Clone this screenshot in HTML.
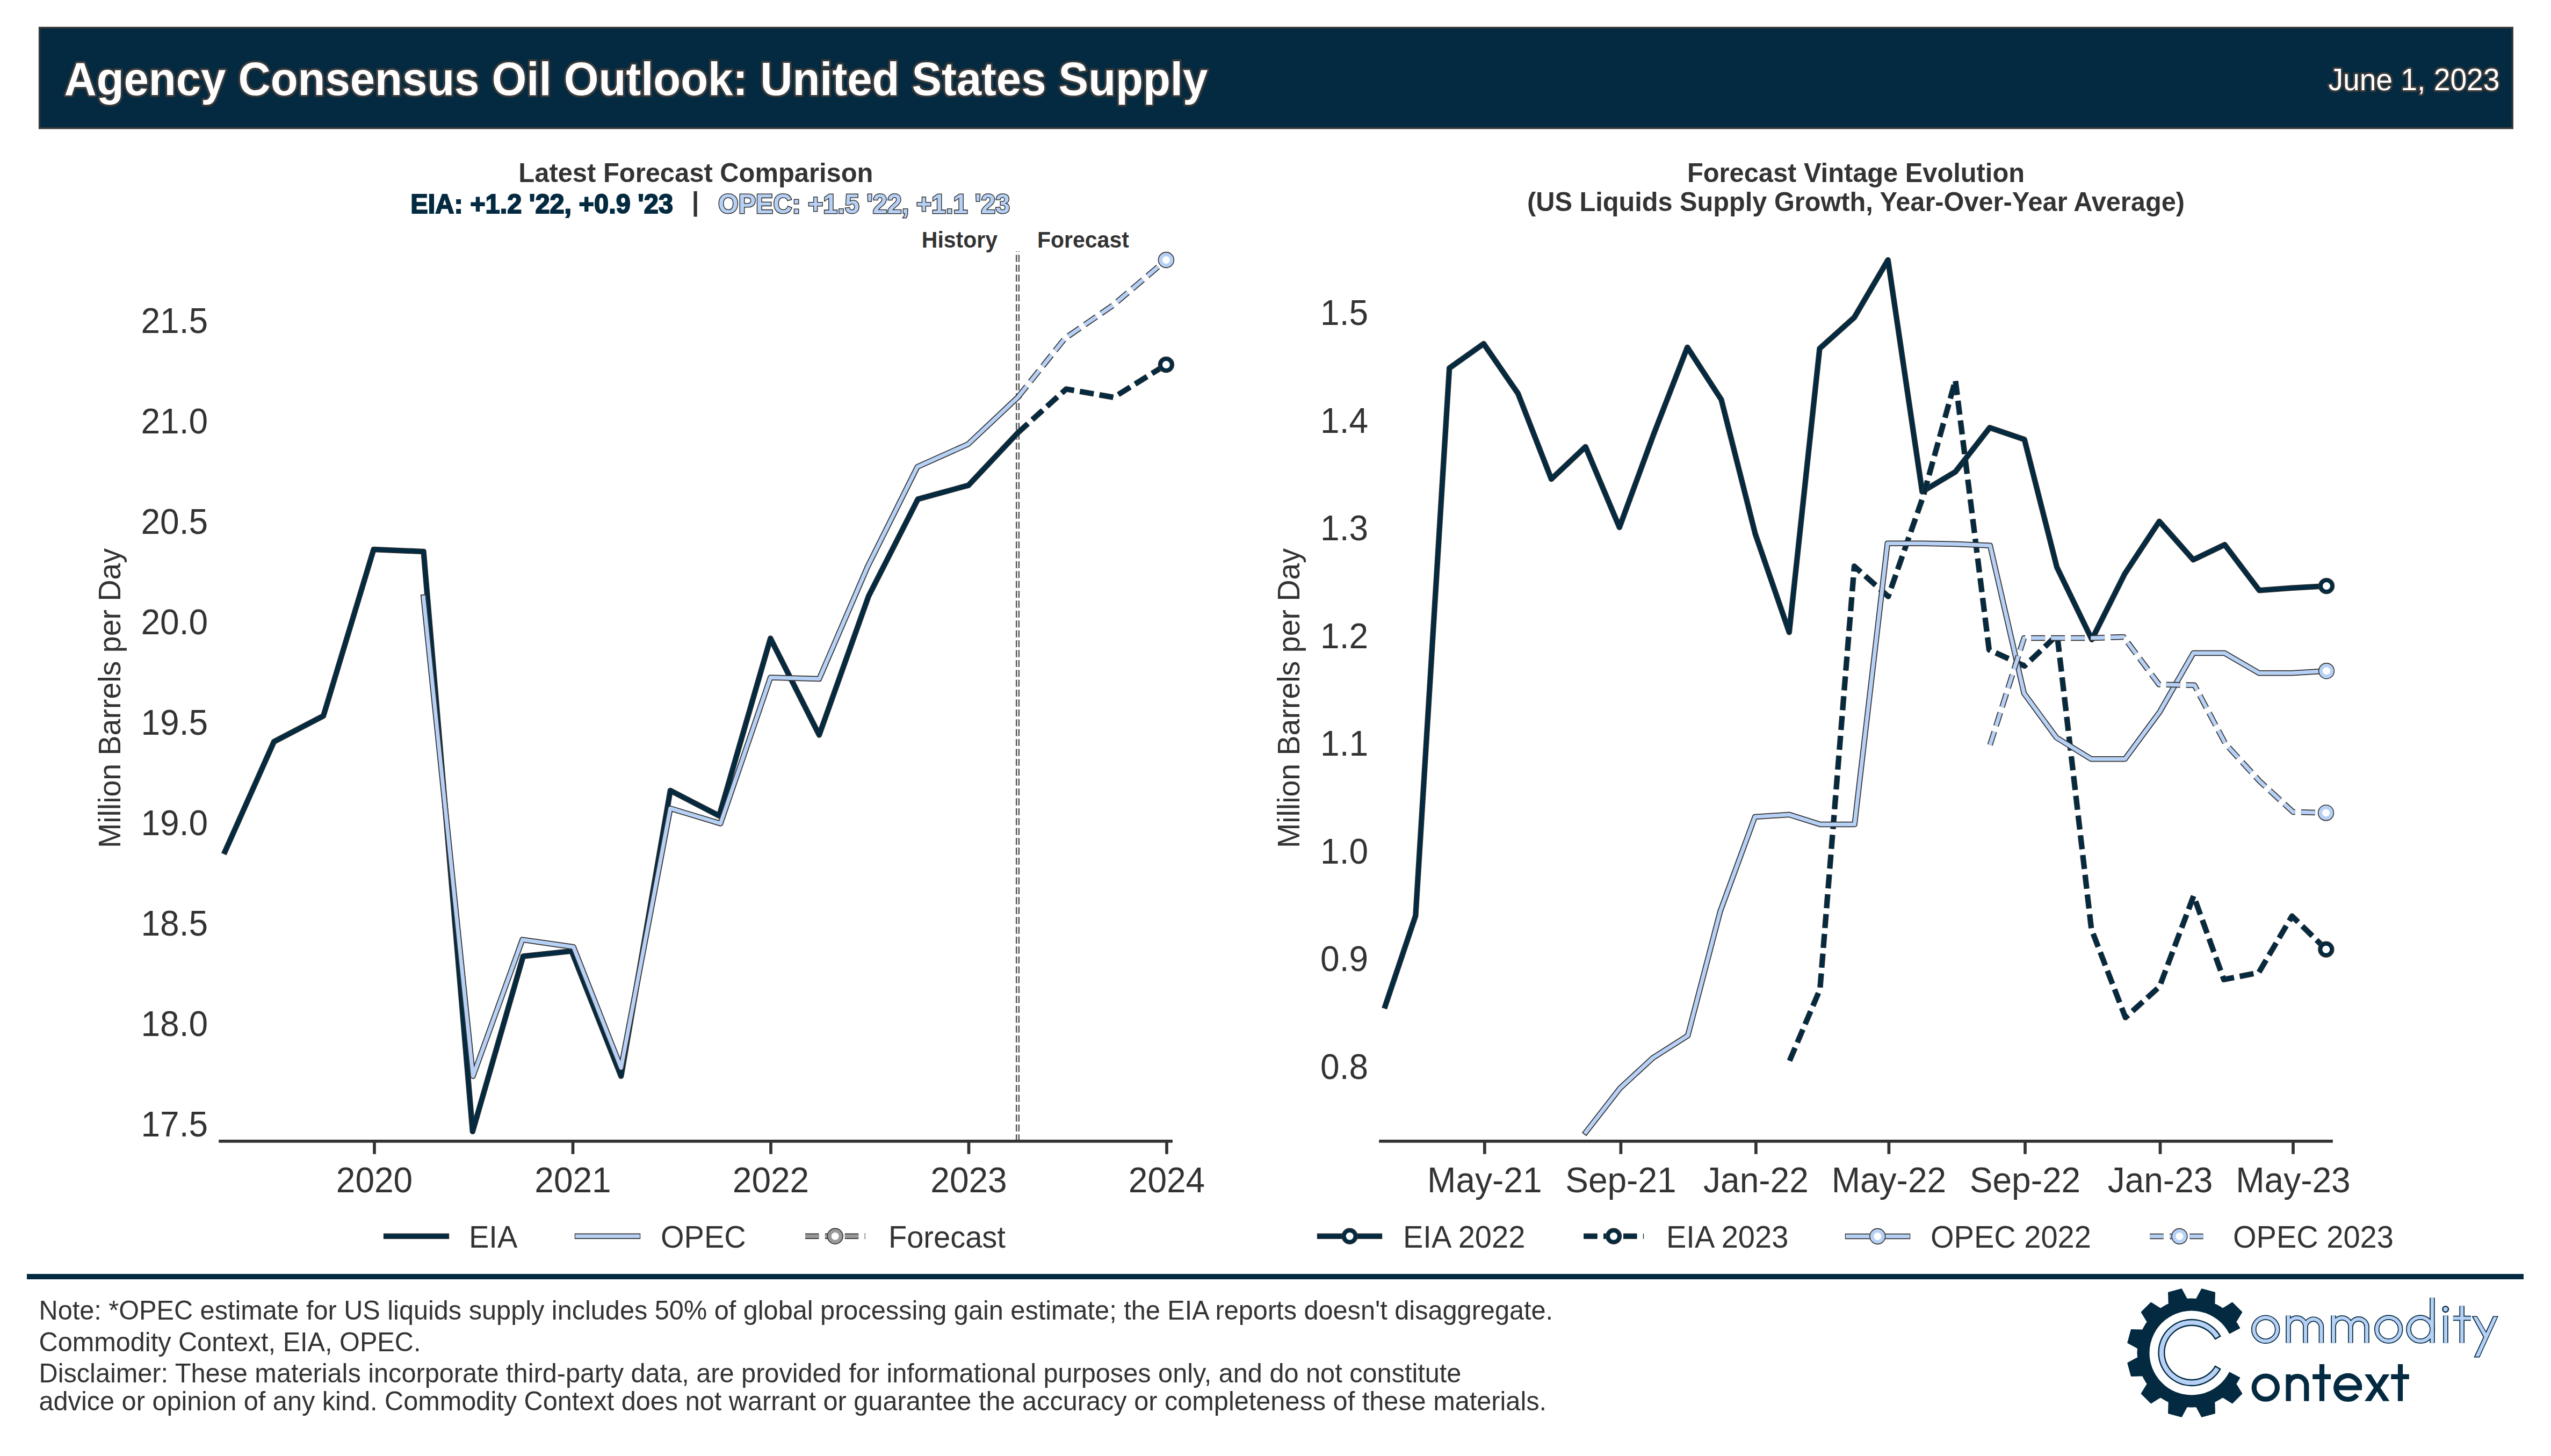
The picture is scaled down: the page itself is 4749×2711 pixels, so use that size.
<!DOCTYPE html><html><head><meta charset="utf-8"><title>Agency Consensus Oil Outlook</title><style>html,body{margin:0;padding:0;background:#fff;overflow:hidden}svg{display:block}</style></head><body><svg width="4749" height="2711" viewBox="0 0 4749 2711" font-family='"Liberation Sans", sans-serif'><rect x="73.5" y="51.5" width="4603.8" height="187.2" fill="#032a40" stroke="#3a3a3a" stroke-width="3.3"/>
<text transform="translate(119.5,177) scale(1,1.04)" font-size="83.3" text-anchor="start" font-weight="bold" fill="#fff" stroke="#3a3a3a" stroke-width="7" paint-order="stroke" stroke-linejoin="round">Agency Consensus Oil Outlook: United States Supply</text>
<text transform="translate(4653.5,168) scale(1,1.04)" font-size="55.2" text-anchor="end" font-weight="normal" fill="#fff" stroke="#3a3a3a" stroke-width="6.5" paint-order="stroke" stroke-linejoin="round">June 1, 2023</text>
<text transform="translate(1295.4,339) scale(1,1.04)" font-size="48.9" text-anchor="middle" font-weight="bold" fill="#333333">Latest Forecast Comparison</text>
<text transform="translate(1253,397) scale(1,1.04)" font-size="48.7" text-anchor="end" font-weight="bold" fill="#032a40" stroke="#032a40" stroke-width="2" paint-order="stroke">EIA: +1.2 '22, +0.9 '23</text>
<text transform="translate(1294.5,391.5) scale(1,1.04)" font-size="48.7" text-anchor="middle" font-weight="bold" fill="#333333">|</text>
<text transform="translate(1337,397) scale(1,1.04)" font-size="48.5" text-anchor="start" font-weight="bold" fill="#b7d1f6" stroke="#333" stroke-width="3" paint-order="stroke">OPEC: +1.5 '22, +1.1 '23</text>
<text transform="translate(1857,461) scale(1,1.04)" font-size="41" text-anchor="end" font-weight="bold" fill="#333333">History</text>
<text transform="translate(1931,461) scale(1,1.04)" font-size="41" text-anchor="start" font-weight="bold" fill="#333333">Forecast</text>
<text transform="translate(387,620.0) scale(1,1.04)" font-size="64" text-anchor="end" font-weight="normal" fill="#333333">21.5</text>
<text transform="translate(387,807.0) scale(1,1.04)" font-size="64" text-anchor="end" font-weight="normal" fill="#333333">21.0</text>
<text transform="translate(387,994.0) scale(1,1.04)" font-size="64" text-anchor="end" font-weight="normal" fill="#333333">20.5</text>
<text transform="translate(387,1181.0) scale(1,1.04)" font-size="64" text-anchor="end" font-weight="normal" fill="#333333">20.0</text>
<text transform="translate(387,1368.0) scale(1,1.04)" font-size="64" text-anchor="end" font-weight="normal" fill="#333333">19.5</text>
<text transform="translate(387,1555.0) scale(1,1.04)" font-size="64" text-anchor="end" font-weight="normal" fill="#333333">19.0</text>
<text transform="translate(387,1742.0) scale(1,1.04)" font-size="64" text-anchor="end" font-weight="normal" fill="#333333">18.5</text>
<text transform="translate(387,1929.0) scale(1,1.04)" font-size="64" text-anchor="end" font-weight="normal" fill="#333333">18.0</text>
<text transform="translate(387,2116.0) scale(1,1.04)" font-size="64" text-anchor="end" font-weight="normal" fill="#333333">17.5</text>
<text x="0" y="0" font-size="55.5" text-anchor="middle" fill="#333333" transform="translate(224,1300) rotate(-90) scale(1,1.04)">Million Barrels per Day</text>
<line x1="1894.5" y1="2125" x2="1894.5" y2="468" stroke="#333333" stroke-width="6.9" stroke-dasharray="12.8 5.6"/>
<line x1="1894.5" y1="2125" x2="1894.5" y2="468" stroke="#d9d9d9" stroke-width="3.4" stroke-dasharray="12.8 5.6"/>
<line x1="407.2" y1="2124.9" x2="2182.9" y2="2124.9" stroke="#333333" stroke-width="5.8"/>
<line x1="697.0" y1="2125" x2="697.0" y2="2148.8" stroke="#333333" stroke-width="5.7"/>
<text transform="translate(697.0,2220) scale(1,1.04)" font-size="64" text-anchor="middle" font-weight="normal" fill="#333333">2020</text>
<line x1="1066.5" y1="2125" x2="1066.5" y2="2148.8" stroke="#333333" stroke-width="5.7"/>
<text transform="translate(1066.5,2220) scale(1,1.04)" font-size="64" text-anchor="middle" font-weight="normal" fill="#333333">2021</text>
<line x1="1435.0" y1="2125" x2="1435.0" y2="2148.8" stroke="#333333" stroke-width="5.7"/>
<text transform="translate(1435.0,2220) scale(1,1.04)" font-size="64" text-anchor="middle" font-weight="normal" fill="#333333">2022</text>
<line x1="1803.5" y1="2125" x2="1803.5" y2="2148.8" stroke="#333333" stroke-width="5.7"/>
<text transform="translate(1803.5,2220) scale(1,1.04)" font-size="64" text-anchor="middle" font-weight="normal" fill="#333333">2023</text>
<line x1="2172.0" y1="2125" x2="2172.0" y2="2148.8" stroke="#333333" stroke-width="5.7"/>
<text transform="translate(2172.0,2220) scale(1,1.04)" font-size="64" text-anchor="middle" font-weight="normal" fill="#333333">2024</text>
<polyline points="418.9,1585.5 510.0,1381.0 602.0,1333.0 695.6,1023.0 788.5,1027.0 879.8,2106.7 973.9,1780.5 1064.2,1770.9 1156.2,2003.7 1247.9,1471.9 1338.9,1519.0 1434.3,1188.6 1525.0,1368.5 1616.8,1110.4 1708.8,929.4 1802.9,903.6 1894.3,806.3" fill="none" stroke="#333333" stroke-width="10.5" stroke-linejoin="round" stroke-linecap="square"/><polyline points="418.9,1585.5 510.0,1381.0 602.0,1333.0 695.6,1023.0 788.5,1027.0 879.8,2106.7 973.9,1780.5 1064.2,1770.9 1156.2,2003.7 1247.9,1471.9 1338.9,1519.0 1434.3,1188.6 1525.0,1368.5 1616.8,1110.4 1708.8,929.4 1802.9,903.6 1894.3,806.3" fill="none" stroke="#032a40" stroke-width="8" stroke-linejoin="round" stroke-linecap="square"/>
<polyline points="788.4,1112.0 880.5,2003.7 972.5,1749.6 1067.6,1763.3 1156.2,1988.3 1247.9,1505.2 1341.3,1533.4 1434.3,1261.4 1525.0,1264.1 1615.0,1055.4 1707.8,869.3 1802.2,827.0 1895.0,739.5" fill="none" stroke="#333333" stroke-width="10.5" stroke-linejoin="round" stroke-linecap="square"/><polyline points="788.4,1112.0 880.5,2003.7 972.5,1749.6 1067.6,1763.3 1156.2,1988.3 1247.9,1505.2 1341.3,1533.4 1434.3,1261.4 1525.0,1264.1 1615.0,1055.4 1707.8,869.3 1802.2,827.0 1895.0,739.5" fill="none" stroke="#b7d1f6" stroke-width="7" stroke-linejoin="round" stroke-linecap="square"/>
<polyline points="1894.3,806.3 1984.8,724.4 2073.5,739.9 2170.9,679.0" fill="none" stroke="#333333" stroke-width="10.5" stroke-linejoin="round" stroke-linecap="butt" stroke-dasharray="26 11"/><polyline points="1894.3,806.3 1984.8,724.4 2073.5,739.9 2170.9,679.0" fill="none" stroke="#032a40" stroke-width="8" stroke-linejoin="round" stroke-linecap="butt" stroke-dasharray="26 11"/>
<polyline points="1895.0,739.5 1982.3,630.2 2072.0,568.4 2170.9,484.0" fill="none" stroke="#333333" stroke-width="10.5" stroke-linejoin="round" stroke-linecap="butt" stroke-dasharray="26 11"/><polyline points="1895.0,739.5 1982.3,630.2 2072.0,568.4 2170.9,484.0" fill="none" stroke="#b7d1f6" stroke-width="7" stroke-linejoin="round" stroke-linecap="butt" stroke-dasharray="26 11"/>
<circle cx="2170.9" cy="679.0" r="10.3" fill="#fff" stroke="#333333" stroke-width="9.8"/>
<circle cx="2170.9" cy="679.0" r="10.3" fill="#fff" stroke="#032a40" stroke-width="6.6"/>
<circle cx="2170.9" cy="484.0" r="10.3" fill="#fff" stroke="#333333" stroke-width="9.8"/>
<circle cx="2170.9" cy="484.0" r="10.3" fill="#fff" stroke="#b7d1f6" stroke-width="6.6"/>
<line x1="713.8" y1="2301.8" x2="836.2" y2="2301.8" stroke="#333333" stroke-width="10.5"/>
<line x1="715" y1="2301.8" x2="835" y2="2301.8" stroke="#032a40" stroke-width="8"/>
<text transform="translate(873,2322.5) scale(1,1.04)" font-size="56" text-anchor="start" font-weight="normal" fill="#333333">EIA</text>
<line x1="1069.8" y1="2301.8" x2="1192.2" y2="2301.8" stroke="#333333" stroke-width="10.5"/>
<line x1="1071" y1="2301.8" x2="1191" y2="2301.8" stroke="#b7d1f6" stroke-width="7"/>
<text transform="translate(1230,2322.5) scale(1,1.04)" font-size="56" text-anchor="start" font-weight="normal" fill="#333333">OPEC</text>
<line x1="1499" y1="2301.8" x2="1611" y2="2301.8" stroke="#333333" stroke-width="10.5" stroke-dasharray="25.4 11.5"/>
<line x1="1499" y1="2301.8" x2="1611" y2="2301.8" stroke="#999999" stroke-width="7" stroke-dasharray="25.4 11.5"/>
<circle cx="1554.7" cy="2301.8" r="10.3" fill="#fff" stroke="#333333" stroke-width="9.8"/>
<circle cx="1554.7" cy="2301.8" r="10.3" fill="#fff" stroke="#999999" stroke-width="6.6"/>
<text transform="translate(1654,2323) scale(1,1.04)" font-size="56" text-anchor="start" font-weight="normal" fill="#333333">Forecast</text>
<text transform="translate(3455,339) scale(1,1.04)" font-size="48.8" text-anchor="middle" font-weight="bold" fill="#333333">Forecast Vintage Evolution</text>
<text transform="translate(3455,393) scale(1,1.04)" font-size="48.7" text-anchor="middle" font-weight="bold" fill="#333333">(US Liquids Supply Growth, Year-Over-Year Average)</text>
<text transform="translate(2547,605.0) scale(1,1.04)" font-size="64" text-anchor="end" font-weight="normal" fill="#333333">1.5</text>
<text transform="translate(2547,805.5) scale(1,1.04)" font-size="64" text-anchor="end" font-weight="normal" fill="#333333">1.4</text>
<text transform="translate(2547,1006.0) scale(1,1.04)" font-size="64" text-anchor="end" font-weight="normal" fill="#333333">1.3</text>
<text transform="translate(2547,1206.5) scale(1,1.04)" font-size="64" text-anchor="end" font-weight="normal" fill="#333333">1.2</text>
<text transform="translate(2547,1407.0) scale(1,1.04)" font-size="64" text-anchor="end" font-weight="normal" fill="#333333">1.1</text>
<text transform="translate(2547,1607.5) scale(1,1.04)" font-size="64" text-anchor="end" font-weight="normal" fill="#333333">1.0</text>
<text transform="translate(2547,1808.0) scale(1,1.04)" font-size="64" text-anchor="end" font-weight="normal" fill="#333333">0.9</text>
<text transform="translate(2547,2008.5) scale(1,1.04)" font-size="64" text-anchor="end" font-weight="normal" fill="#333333">0.8</text>
<text x="0" y="0" font-size="55.5" text-anchor="middle" fill="#333333" transform="translate(2419,1300) rotate(-90) scale(1,1.04)">Million Barrels per Day</text>
<line x1="2567.2" y1="2124.9" x2="4342.9" y2="2124.9" stroke="#333333" stroke-width="5.8"/>
<line x1="2763.8" y1="2125" x2="2763.8" y2="2148.8" stroke="#333333" stroke-width="5.7"/>
<text transform="translate(2763.8,2220) scale(1,1.04)" font-size="64" text-anchor="middle" font-weight="normal" fill="#333333">May-21</text>
<line x1="3017.4" y1="2125" x2="3017.4" y2="2148.8" stroke="#333333" stroke-width="5.7"/>
<text transform="translate(3017.4,2220) scale(1,1.04)" font-size="64" text-anchor="middle" font-weight="normal" fill="#333333">Sep-21</text>
<line x1="3268.9" y1="2125" x2="3268.9" y2="2148.8" stroke="#333333" stroke-width="5.7"/>
<text transform="translate(3268.9,2220) scale(1,1.04)" font-size="64" text-anchor="middle" font-weight="normal" fill="#333333">Jan-22</text>
<line x1="3516.4" y1="2125" x2="3516.4" y2="2148.8" stroke="#333333" stroke-width="5.7"/>
<text transform="translate(3516.4,2220) scale(1,1.04)" font-size="64" text-anchor="middle" font-weight="normal" fill="#333333">May-22</text>
<line x1="3770.0" y1="2125" x2="3770.0" y2="2148.8" stroke="#333333" stroke-width="5.7"/>
<text transform="translate(3770.0,2220) scale(1,1.04)" font-size="64" text-anchor="middle" font-weight="normal" fill="#333333">Sep-22</text>
<line x1="4021.5" y1="2125" x2="4021.5" y2="2148.8" stroke="#333333" stroke-width="5.7"/>
<text transform="translate(4021.5,2220) scale(1,1.04)" font-size="64" text-anchor="middle" font-weight="normal" fill="#333333">Jan-23</text>
<line x1="4269.0" y1="2125" x2="4269.0" y2="2148.8" stroke="#333333" stroke-width="5.7"/>
<text transform="translate(4269.0,2220) scale(1,1.04)" font-size="64" text-anchor="middle" font-weight="normal" fill="#333333">May-23</text>
<polyline points="2578.8,1872.9 2635.3,1705.0 2698.2,685.4 2762.0,640.0 2826.0,732.8 2888.0,892.0 2951.6,831.9 3014.8,981.9 3078.0,809.9 3141.2,646.7 3204.4,744.0 3267.6,994.0 3330.8,1177.2 3387.5,648.8 3452.0,591.0 3514.7,484.0 3578.4,915.5 3640.2,878.5 3704.1,796.3 3768.7,818.3 3829.1,1056.0 3894.3,1190.7 3955.5,1068.3 4019.8,970.8 4083.0,1042.2 4141.5,1014.2 4206.0,1099.3 4266.5,1094.7 4331.0,1091.1" fill="none" stroke="#333333" stroke-width="10.5" stroke-linejoin="round" stroke-linecap="square"/><polyline points="2578.8,1872.9 2635.3,1705.0 2698.2,685.4 2762.0,640.0 2826.0,732.8 2888.0,892.0 2951.6,831.9 3014.8,981.9 3078.0,809.9 3141.2,646.7 3204.4,744.0 3267.6,994.0 3330.8,1177.2 3387.5,648.8 3452.0,591.0 3514.7,484.0 3578.4,915.5 3640.2,878.5 3704.1,796.3 3768.7,818.3 3829.1,1056.0 3894.3,1190.7 3955.5,1068.3 4019.8,970.8 4083.0,1042.2 4141.5,1014.2 4206.0,1099.3 4266.5,1094.7 4331.0,1091.1" fill="none" stroke="#032a40" stroke-width="8" stroke-linejoin="round" stroke-linecap="square"/>
<circle cx="4331.0" cy="1091.1" r="10.3" fill="#fff" stroke="#333333" stroke-width="9.8"/>
<circle cx="4331.0" cy="1091.1" r="10.3" fill="#fff" stroke="#032a40" stroke-width="6.6"/>
<polyline points="3331.5,1975.0 3388.1,1842.1 3452.0,1054.3 3515.2,1110.6 3580.0,925.0 3640.2,707.9 3703.0,1210.0 3769.0,1240.0 3829.7,1182.4 3893.4,1730.2 3956.8,1894.6 4020.3,1836.9 4083.7,1668.2 4140.0,1823.9 4204.9,1811.0 4266.9,1705.7 4330.3,1767.7" fill="none" stroke="#333333" stroke-width="10.5" stroke-linejoin="round" stroke-linecap="butt" stroke-dasharray="26 11"/><polyline points="3331.5,1975.0 3388.1,1842.1 3452.0,1054.3 3515.2,1110.6 3580.0,925.0 3640.2,707.9 3703.0,1210.0 3769.0,1240.0 3829.7,1182.4 3893.4,1730.2 3956.8,1894.6 4020.3,1836.9 4083.7,1668.2 4140.0,1823.9 4204.9,1811.0 4266.9,1705.7 4330.3,1767.7" fill="none" stroke="#032a40" stroke-width="8" stroke-linejoin="round" stroke-linecap="butt" stroke-dasharray="26 11"/>
<circle cx="4330.3" cy="1767.7" r="10.3" fill="#fff" stroke="#333333" stroke-width="9.8"/>
<circle cx="4330.3" cy="1767.7" r="10.3" fill="#fff" stroke="#032a40" stroke-width="6.6"/>
<polyline points="2952.2,2108.1 3015.7,2026.4 3077.2,1969.6 3142.0,1928.4 3202.4,1696.9 3267.0,1521.0 3330.9,1516.8 3388.6,1535.0 3452.5,1535.0 3513.8,1011.7 3579.8,1011.7 3642.0,1013.0 3704.8,1015.8 3768.0,1291.0 3828.4,1373.4 3893.0,1413.2 3956.0,1413.2 4020.7,1325.3 4083.2,1216.1 4141.5,1216.1 4205.5,1253.2 4266.5,1253.2 4331.0,1249.3" fill="none" stroke="#333333" stroke-width="10.5" stroke-linejoin="round" stroke-linecap="square"/><polyline points="2952.2,2108.1 3015.7,2026.4 3077.2,1969.6 3142.0,1928.4 3202.4,1696.9 3267.0,1521.0 3330.9,1516.8 3388.6,1535.0 3452.5,1535.0 3513.8,1011.7 3579.8,1011.7 3642.0,1013.0 3704.8,1015.8 3768.0,1291.0 3828.4,1373.4 3893.0,1413.2 3956.0,1413.2 4020.7,1325.3 4083.2,1216.1 4141.5,1216.1 4205.5,1253.2 4266.5,1253.2 4331.0,1249.3" fill="none" stroke="#b7d1f6" stroke-width="7" stroke-linejoin="round" stroke-linecap="square"/>
<circle cx="4331.0" cy="1249.3" r="10.3" fill="#fff" stroke="#333333" stroke-width="9.8"/>
<circle cx="4331.0" cy="1249.3" r="10.3" fill="#fff" stroke="#b7d1f6" stroke-width="6.6"/>
<polyline points="3704.7,1387.0 3768.0,1188.0 3830.0,1188.0 3893.0,1188.0 3953.4,1186.0 4019.3,1274.5 4085.2,1275.7 4143.0,1385.0 4207.0,1455.0 4269.0,1512.0 4330.0,1513.4" fill="none" stroke="#333333" stroke-width="10.5" stroke-linejoin="round" stroke-linecap="butt" stroke-dasharray="26 11"/><polyline points="3704.7,1387.0 3768.0,1188.0 3830.0,1188.0 3893.0,1188.0 3953.4,1186.0 4019.3,1274.5 4085.2,1275.7 4143.0,1385.0 4207.0,1455.0 4269.0,1512.0 4330.0,1513.4" fill="none" stroke="#b7d1f6" stroke-width="7" stroke-linejoin="round" stroke-linecap="butt" stroke-dasharray="26 11"/>
<circle cx="4330.0" cy="1513.4" r="10.3" fill="#fff" stroke="#333333" stroke-width="9.8"/>
<circle cx="4330.0" cy="1513.4" r="10.3" fill="#fff" stroke="#b7d1f6" stroke-width="6.6"/>
<line x1="2451.8" y1="2301.8" x2="2573.2" y2="2301.8" stroke="#333333" stroke-width="10.5"/>
<line x1="2453" y1="2301.8" x2="2572" y2="2301.8" stroke="#032a40" stroke-width="8"/>
<circle cx="2512.6" cy="2301.8" r="10.3" fill="#fff" stroke="#333333" stroke-width="9.8"/>
<circle cx="2512.6" cy="2301.8" r="10.3" fill="#fff" stroke="#032a40" stroke-width="6.6"/>
<text transform="translate(2612,2323) scale(1,1.04)" font-size="56" text-anchor="start" font-weight="normal" fill="#333333">EIA 2022</text>
<line x1="2948.2" y1="2301.8" x2="3060.1" y2="2301.8" stroke="#333333" stroke-width="10.5" stroke-dasharray="25.4 11.5"/>
<line x1="2948.2" y1="2301.8" x2="3060.1" y2="2301.8" stroke="#032a40" stroke-width="8" stroke-dasharray="25.4 11.5"/>
<circle cx="3004.0" cy="2301.8" r="10.3" fill="#fff" stroke="#333333" stroke-width="9.8"/>
<circle cx="3004.0" cy="2301.8" r="10.3" fill="#fff" stroke="#032a40" stroke-width="6.6"/>
<text transform="translate(3102,2323) scale(1,1.04)" font-size="56" text-anchor="start" font-weight="normal" fill="#333333">EIA 2023</text>
<line x1="3434.8" y1="2302" x2="3556.2" y2="2302" stroke="#333333" stroke-width="10.5"/>
<line x1="3436" y1="2302" x2="3555" y2="2302" stroke="#b7d1f6" stroke-width="7"/>
<circle cx="3495.3" cy="2302.0" r="10.3" fill="#fff" stroke="#333333" stroke-width="9.8"/>
<circle cx="3495.3" cy="2302.0" r="10.3" fill="#fff" stroke="#b7d1f6" stroke-width="6.6"/>
<text transform="translate(3594,2323) scale(1,1.04)" font-size="56" text-anchor="start" font-weight="normal" fill="#333333">OPEC 2022</text>
<line x1="4002.2" y1="2302" x2="4113" y2="2302" stroke="#333333" stroke-width="10.5" stroke-dasharray="25.4 11.6"/>
<line x1="4002.2" y1="2302" x2="4113" y2="2302" stroke="#b7d1f6" stroke-width="7" stroke-dasharray="25.4 11.6"/>
<circle cx="4057.4" cy="2302.0" r="10.3" fill="#fff" stroke="#333333" stroke-width="9.8"/>
<circle cx="4057.4" cy="2302.0" r="10.3" fill="#fff" stroke="#b7d1f6" stroke-width="6.6"/>
<text transform="translate(4157,2323) scale(1,1.04)" font-size="56" text-anchor="start" font-weight="normal" fill="#333333">OPEC 2023</text>
<rect x="50" y="2372" width="4648" height="10" fill="#032a40"/>
<text transform="translate(72.5,2457) scale(1,1.04)" font-size="48.65" text-anchor="start" font-weight="normal" fill="#333333">Note: *OPEC estimate for US liquids supply includes 50% of global processing gain estimate; the EIA reports doesn't disaggregate.</text>
<text transform="translate(72.5,2516) scale(1,1.04)" font-size="48.65" text-anchor="start" font-weight="normal" fill="#333333">Commodity Context, EIA, OPEC.</text>
<text transform="translate(72.5,2574) scale(1,1.04)" font-size="48.65" text-anchor="start" font-weight="normal" fill="#333333">Disclaimer: These materials incorporate third-party data, are provided for informational purposes only, and do not constitute</text>
<text transform="translate(72.5,2626) scale(1,1.04)" font-size="48.65" text-anchor="start" font-weight="normal" fill="#333333">advice or opinion of any kind. Commodity Context does not warrant or guarantee the accuracy or completeness of these materials.</text>
<path d="M4169.2,2472.7 A100.5,100.5 0 1 0 4169.2,2565.3 L4150.6,2555.6 A79.5,79.5 0 1 1 4150.6,2482.4 Z M4122.2,2433.0 L4123.0,2406.8 L4098.9,2400.3 L4086.5,2423.4 Z M4159.5,2465.6 L4173.3,2443.3 L4155.7,2425.7 L4133.4,2439.5 Z M4133.4,2598.5 L4155.7,2612.3 L4173.3,2594.7 L4159.5,2572.4 Z M4086.5,2614.6 L4098.9,2637.7 L4123.0,2631.2 L4122.2,2605.0 Z M4037.8,2605.0 L4037.0,2631.2 L4061.1,2637.7 L4073.5,2614.6 Z M4000.5,2572.4 L3986.7,2594.7 L4004.3,2612.3 L4026.6,2598.5 Z M3984.4,2525.5 L3961.3,2537.9 L3967.8,2562.0 L3994.0,2561.2 Z M3994.0,2476.8 L3967.8,2476.0 L3961.3,2500.1 L3984.4,2512.5 Z M4026.6,2439.5 L4004.3,2425.7 L3986.7,2443.3 L4000.5,2465.6 Z M4073.5,2423.4 L4061.1,2400.3 L4037.0,2406.8 L4037.8,2433.0 Z" fill="#032a40" stroke="#032a40" stroke-width="2" stroke-linejoin="round"/>
<path d="M4133.3,2487.8 A61.5,61.5 0 1 0 4133.3,2549.2 L4124.0,2543.9 A50.8,50.8 0 1 1 4124.0,2493.1 Z" fill="#b7d1f6" stroke="#032a40" stroke-width="2.4"/>
<g fill="none" stroke="#032a40" stroke-width="9.6"><circle cx="4217.7" cy="2475.2" r="22"/><path d="M4260,2500.5 V2449.5 M4260,2500.5 V2469.8 A15.9,15.9 0 0 1 4291.9,2469.8 V2500.5 M4291.9,2469.8 A14.8,14.8 0 0 1 4321.4,2469.8 V2500.5"/><path d="M4344.1,2500.5 V2449.5 M4344.1,2500.5 V2469.7 A15.9,15.9 0 0 1 4375.9,2469.7 V2500.5 M4375.9,2469.7 A15.1,15.1 0 0 1 4406,2469.7 V2500.5"/><circle cx="4446.7" cy="2475" r="22"/><circle cx="4505.9" cy="2475" r="22"/><path d="M4527.9,2416.3 V2500.5"/><path d="M4552.9,2449.5 V2500.5"/><path d="M4583.2,2431.6 V2500.5 M4566.8,2454.5 H4599.8"/></g>
<g fill="#032a40" stroke="#032a40" stroke-width="3.2" stroke-linejoin="miter"><circle cx="4552.7" cy="2437.7" r="4.9"/><path d="M4642,2452 L4648.6,2452 L4615,2525.8 L4607.8,2525.8 Z M4604,2452 L4610.6,2452 L4630.5,2486 L4627,2494 Z"/></g>
<g fill="none" stroke="#b7d1f6" stroke-width="6.2"><circle cx="4217.7" cy="2475.2" r="22"/><path d="M4260,2500.5 V2449.5 M4260,2500.5 V2469.8 A15.9,15.9 0 0 1 4291.9,2469.8 V2500.5 M4291.9,2469.8 A14.8,14.8 0 0 1 4321.4,2469.8 V2500.5"/><path d="M4344.1,2500.5 V2449.5 M4344.1,2500.5 V2469.7 A15.9,15.9 0 0 1 4375.9,2469.7 V2500.5 M4375.9,2469.7 A15.1,15.1 0 0 1 4406,2469.7 V2500.5"/><circle cx="4446.7" cy="2475" r="22"/><circle cx="4505.9" cy="2475" r="22"/><path d="M4527.9,2416.3 V2500.5"/><path d="M4552.9,2449.5 V2500.5"/><path d="M4583.2,2431.6 V2500.5 M4566.8,2454.5 H4599.8"/></g>
<g fill="#b7d1f6" stroke="none"><circle cx="4552.7" cy="2437.7" r="4.1"/></g>
<path d="M4642,2452 L4648.6,2452 L4615,2525.8 L4607.8,2525.8 Z M4604,2452 L4610.6,2452 L4630.5,2486 L4627,2494 Z" fill="#b7d1f6" stroke="#b7d1f6" stroke-width="0" transform="translate(0.2,0)"/>
<g fill="none" stroke="#032a40" stroke-width="9.2"><circle cx="4217.8" cy="2583.6" r="21.6"/><path d="M4260.1,2608.8 V2558.9 M4260.1,2579.3 A16.85,16.85 0 0 1 4293.8,2579.3 V2608.8"/><path d="M4322.5,2540 V2608.8 M4305.2,2563.4 H4339"/><path d="M4349,2584 H4397 M4392.8,2583.6 A22,22 0 1 0 4388.1,2597.1"/><path d="M4468.5,2540 V2608.8 M4451.2,2563.4 H4484.8"/></g>
<path d="M4402,2558.9 L4414,2558.9 L4425.2,2577 L4436.5,2558.9 L4448.4,2558.9 L4431.5,2584 L4448.4,2608.8 L4436.5,2608.8 L4425.2,2591 L4414,2608.8 L4402,2608.8 L4419,2584 Z" fill="#032a40"/></svg></body></html>
